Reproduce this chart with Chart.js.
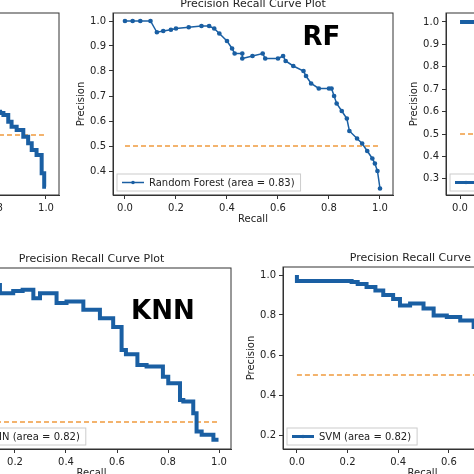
<!DOCTYPE html>
<html><head><meta charset="utf-8">
<script src="https://cdn.jsdelivr.net/npm/chart.js@4.4.1/dist/chart.umd.min.js"></script>
<style>html,body{margin:0;padding:0;width:474px;height:474px;overflow:hidden;background:#fff;position:relative}canvas{position:absolute}</style>
</head><body>
<script>
const xTicks=[0,0.2,0.4,0.6,0.8,1.0];
const rfTicksY=[0.4,0.5,0.6,0.7,0.8,0.9,1.0];
const trTicksY=[0.3,0.4,0.5,0.6,0.7,0.8,0.9,1.0];
const svmTicksY=[0.2,0.4,0.6,0.8,1.0];
const knnTicksY=[];
const tlTicksY=[];
const rfRecall=[0,0.03,0.06,0.1,0.125,0.15,0.18,0.2,0.25,0.3,0.33,0.35,0.37,0.4,0.42,0.43,0.46,0.46,0.5,0.54,0.55,0.6,0.62,0.63,0.66,0.7,0.71,0.73,0.76,0.8,0.81,0.82,0.83,0.85,0.87,0.88,0.91,0.93,0.95,0.97,0.98,0.99,1.0];
const rfPrecision=[1.0,1.0,1.0,1.0,0.955,0.96,0.965,0.97,0.975,0.98,0.98,0.97,0.95,0.92,0.89,0.87,0.87,0.85,0.86,0.87,0.85,0.85,0.86,0.84,0.82,0.80,0.78,0.75,0.73,0.73,0.73,0.70,0.67,0.64,0.61,0.56,0.53,0.51,0.48,0.45,0.43,0.40,0.33];
const tlRecall=[0,0.2,0.4,0.6,0.75,0.82,0.833,0.852,0.865,0.885,0.911,0.93,0.944,0.963,0.983,0.993,1.0];
const tlPrecision=[1.0,0.95,0.85,0.75,0.65,0.593,0.588,0.58,0.553,0.533,0.52,0.493,0.467,0.44,0.42,0.347,0.293];
const trRecall=[0,0.3,0.35,0.5,0.7,0.9,1.0];
const trPrecision=[1.0,1.0,0.97,0.9,0.8,0.6,0.35];
const knnRecall=[0,0.05,0.1,0.141,0.193,0.23,0.272,0.298,0.363,0.402,0.468,0.533,0.585,0.618,0.635,0.68,0.716,0.78,0.801,0.847,0.86,0.899,0.912,0.932,0.978,0.998];
const knnPrecision=[1.0,0.97,0.95,0.945,0.918,0.925,0.929,0.902,0.918,0.886,0.891,0.864,0.837,0.808,0.734,0.72,0.685,0.68,0.647,0.626,0.571,0.566,0.528,0.469,0.458,0.442];
const svmRecall=[0,0.216,0.24,0.275,0.31,0.341,0.38,0.407,0.447,0.5,0.54,0.592,0.645,0.698,0.8,0.9,1.0];
const svmPrecision=[1.0,0.97,0.965,0.955,0.94,0.922,0.9,0.88,0.848,0.857,0.832,0.798,0.79,0.773,0.74,0.65,0.5];
const baseline=[0.5,0.5];
const baseRecall=[0,1];

const BLUE='#1a5fa3', ORANGE='#f09a3e', FONT='"DejaVu Sans"';
const YW=42, XH=34, PT=16, PR=6;

const deco={id:'deco',
 afterDraw(c){const o=c.options.plugins.deco;const a=c.chartArea;const g=c.ctx;g.save();
  g.strokeStyle='#333';g.lineWidth=1;g.strokeRect(a.left,a.top,a.right-a.left,a.bottom-a.top);
  g.fillStyle='#222';g.font='11px '+FONT;g.textAlign='center';g.textBaseline='bottom';
  g.fillText('Precision Recall Curve Plot',(a.left+a.right)/2,a.top-3);
  if(o.big){g.font='bold 26px '+FONT;g.fillStyle='#000';g.textBaseline='middle';
   g.fillText(o.big,c.scales.x.getPixelForValue(o.bigAt[0]),c.scales.y.getPixelForValue(o.bigAt[1]));}
  g.font='10px '+FONT;const tw=g.measureText(o.legend).width;
  const bx=a.left+4,bh=17,by=a.bottom-4-bh,bw=32+tw+6;
  g.fillStyle='rgba(255,255,255,0.9)';g.strokeStyle='#ccc';g.fillRect(bx,by,bw,bh);g.strokeRect(bx,by,bw,bh);
  g.strokeStyle=BLUE;g.lineWidth=o.thick?3:1.5;g.beginPath();g.moveTo(bx+5,by+bh/2);g.lineTo(bx+27,by+bh/2);g.stroke();
  g.fillStyle=BLUE;g.beginPath();g.arc(bx+16,by+bh/2,1.8,0,7);g.fill();
  g.fillStyle='#222';g.textAlign='left';g.textBaseline='middle';g.fillText(o.legend,bx+32,by+bh/2+1);
  g.restore();}};

function panel(p){
 const cv=document.createElement('canvas');
 const W=YW+p.w+PR,H=PT+p.h+XH;
 cv.width=W;cv.height=H;cv.style.left=(p.left-YW)+'px';cv.style.top=(p.top-PT)+'px';
 cv.style.width=W+'px';cv.style.height=H+'px';document.body.appendChild(cv);
 const pts=(xs,ys)=>xs.map((x,i)=>({x:x,y:ys[i]}));
 const axisCommon={grid:{display:true,drawOnChartArea:false,drawTicks:true,tickLength:4,color:'#333'},border:{display:true,color:'#333'}};
 new Chart(cv,{type:'scatter',
  data:{datasets:[
   {data:pts(p.rx,p.py),showLine:true,stepped:p.thick?'after':false,borderColor:BLUE,backgroundColor:BLUE,borderWidth:p.thick?4:1.5,pointRadius:p.thick?0:1.6,tension:0},
   {data:pts(baseRecall,baseline),showLine:true,borderColor:ORANGE,borderWidth:1.5,borderDash:[5,3],pointRadius:0}]},
  options:{responsive:false,animation:false,devicePixelRatio:1,
   layout:{padding:{top:PT,right:PR,left:0,bottom:0}},
   plugins:{legend:{display:false},tooltip:{enabled:false},deco:{legend:p.legend,big:p.big,bigAt:p.bigAt,thick:p.thick}},
   scales:{
    x:Object.assign({type:'linear',min:p.x0,max:p.x1,
     afterBuildTicks:s=>{s.ticks=xTicks.map(v=>({value:v}));},
     afterFit:s=>{s.height=XH;},
     ticks:{color:'#222',font:{family:FONT,size:10},padding:3,callback:v=>v.toFixed(1)},
     title:{display:true,text:'Recall',color:'#222',font:{family:FONT,size:10},padding:{top:0}}},axisCommon),
    y:Object.assign({type:'linear',min:p.y0,max:p.y1,
     afterBuildTicks:s=>{s.ticks=p.yt.map(v=>({value:v}));},
     afterFit:s=>{s.width=YW;},
     ticks:{color:'#222',font:{family:FONT,size:10},padding:3,callback:v=>v.toFixed(1)},
     title:{display:true,text:'Precision',color:'#222',font:{family:FONT,size:10},padding:{bottom:2}}},axisCommon)}},
  plugins:[deco]});
}
panel({left:-221,top:13,w:280,h:182,x0:-0.047,x1:1.051,y0:0.26,y1:0.988,yt:tlTicksY,rx:tlRecall,py:tlPrecision,thick:true,legend:'Logistic Regression (area = 0.80)'});
panel({left:113,top:13,w:280,h:182,x0:-0.047,x1:1.051,y0:0.304,y1:1.032,yt:rfTicksY,rx:rfRecall,py:rfPrecision,thick:false,legend:'Random Forest (area = 0.83)',big:'RF',bigAt:[0.77,0.93]});
panel({left:446,top:13,w:280,h:182,x0:-0.055,x1:1.043,y0:0.228,y1:1.04,yt:trTicksY,rx:trRecall,py:trPrecision,thick:true,legend:'Decision Tree (area = 0.80)'});
panel({left:-48,top:268,w:279,h:181,x0:-0.047,x1:1.047,y0:0.412,y1:1.0,yt:knnTicksY,rx:knnRecall,py:knnPrecision,thick:true,legend:'KNN (area = 0.82)',big:'KNN',bigAt:[0.78,0.857]});
panel({left:283,top:267,w:279,h:182,x0:-0.055,x1:1.047,y0:0.13,y1:1.04,yt:svmTicksY,rx:svmRecall,py:svmPrecision,thick:true,legend:'SVM (area = 0.82)'});
</script>
</body></html>
